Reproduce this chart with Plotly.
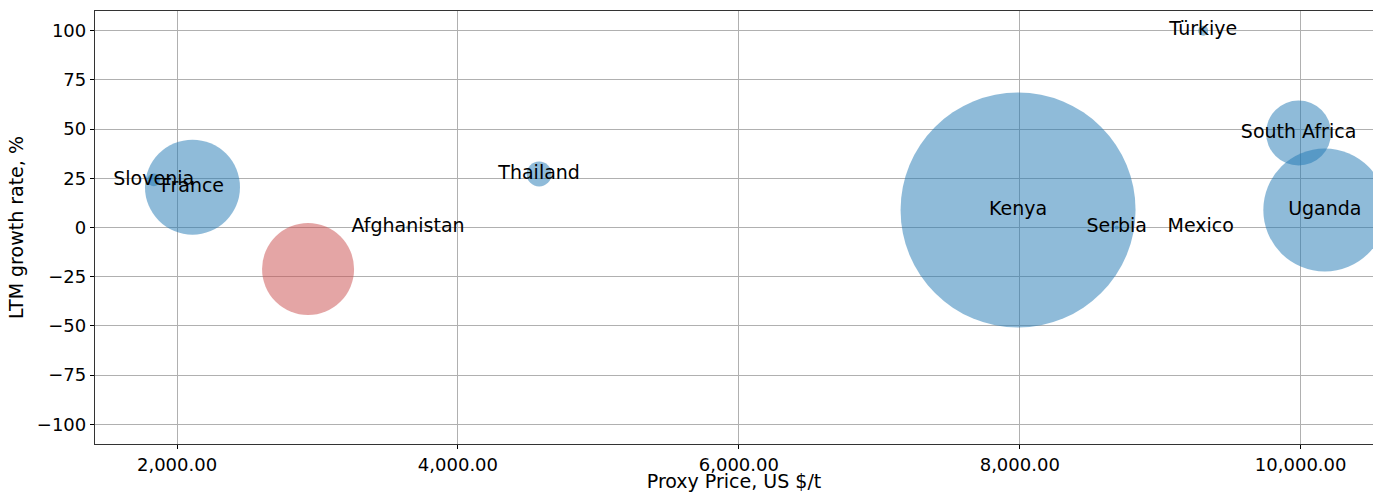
import plotly.graph_objects as go

countries = ["Slovenia", "France", "", "Afghanistan", "Thailand", "Kenya",
             "Serbia", "Mexico", "Türkiye", "South Africa", "Uganda"]
proxy_price = [1834, 2110, 2933, 3645, 4578, 7988, 8690, 9288, 9306, 9985, 10172]
growth_rate = [24.2, 20.5, -21.1, 0.0, 27.2, 8.9, 0.0, 0.0, 100.0, 48.0, 8.9]
volume = [160, 9025, 8464, 16, 625, 55225, 16, 16, 100, 4225, 15129]
colors = ["rgba(31,119,180,0.5)", "rgba(31,119,180,0.5)", "rgba(201,76,76,0.5)",
          "rgba(31,119,180,0.5)", "rgba(31,119,180,0.5)", "rgba(31,119,180,0.5)",
          "rgba(31,119,180,0.5)", "rgba(31,119,180,0.5)", "rgba(31,119,180,0.5)",
          "rgba(31,119,180,0.5)", "rgba(31,119,180,0.5)"]

x_ticks = [2000, 4000, 6000, 8000, 10000]
y_ticks = [-100, -75, -50, -25, 0, 25, 50, 75, 100]

FONT = "DejaVu Sans"

fig = go.Figure()
fig.add_trace(go.Scatter(
    x=proxy_price, y=growth_rate, text=countries,
    mode="markers+text", textposition="middle center",
    textfont=dict(family=FONT, size=19, color="black"),
    marker=dict(size=volume, sizemode="area", sizeref=2.0, sizemin=0,
                color=colors, opacity=1, line=dict(width=0)),
    cliponaxis=True, showlegend=False,
))

fig.update_layout(
    width=1373, height=492,
    margin=dict(l=95, r=0, t=11, b=48),
    paper_bgcolor="white", plot_bgcolor="white",
    font=dict(family=FONT, size=18, color="black"),
    xaxis=dict(
        range=[1416, 10515], tickvals=x_ticks, tickformat=",.2f",
        showgrid=True, gridcolor="#b0b0b0", gridwidth=1,
        showline=True, linecolor="#333333", linewidth=1.3, mirror=True,
        ticks="outside", ticklen=4, tickcolor="black", tickwidth=1,
        zeroline=False,
        title=dict(text="Proxy Price, US $/t", font=dict(size=19), standoff=4),
        automargin=False,
    ),
    yaxis=dict(
        range=[-110, 110], tickvals=y_ticks,
        showgrid=True, gridcolor="#b0b0b0", gridwidth=1,
        showline=True, linecolor="#333333", linewidth=1.3, mirror=False,
        ticks="outside", ticklen=4, tickcolor="black", tickwidth=1,
        zeroline=False,
        title=dict(text="LTM growth rate, %", font=dict(size=19), standoff=8),
        automargin=False,
    ),
)

fig.write_html(
    "out.html",
    config={"displayModeBar": False},
    post_script="document.body.style.margin='0px';document.body.style.overflow='hidden';",
)
